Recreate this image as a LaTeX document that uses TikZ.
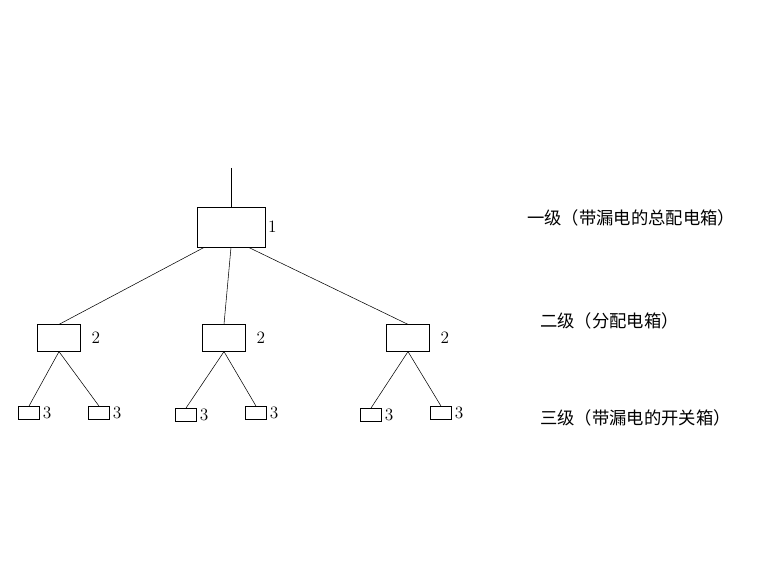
\documentclass[tikz,border=0pt]{standalone}
\usepackage{fontspec}
\newfontfamily\cjk{Noto Sans CJK SC}
\usetikzlibrary{positioning}
\begin{document}
\begin{tikzpicture}[x=0.75pt,y=-0.75pt, font=\fontsize{13}{15}\selectfont,
    bigbox/.style={draw, minimum width=51pt, minimum height=30pt, inner sep=0pt},
    midbox/.style={draw, minimum width=32pt, minimum height=20pt, inner sep=0pt},
    smallbox/.style={draw, minimum width=16pt, minimum height=10pt, inner sep=0pt},
    lbl/.style={right, inner sep=2pt},
    level/.style={right, inner sep=0pt, font=\cjk\fontsize{13}{15}\selectfont}]
    \useasboundingbox (0,0) rectangle (760,570);
    \coordinate (top) at (231,168);
    \node[bigbox] (b1) at (231,227) {};
    \node[lbl] at (b1.east) {1};
    \node[midbox] (m1) at (59,338) {};
    \node[midbox] (m2) at (224,338) {};
    \node[midbox] (m3) at (408,338) {};
    \foreach \m in {m1,m2,m3}
      \node[lbl, xshift=6pt] at (\m.east) {2};
    \node[smallbox] (s1) at (29,413) {};
    \node[smallbox] (s2) at (99,413) {};
    \node[smallbox] (s3) at (186,415) {};
    \node[smallbox] (s4) at (256,413) {};
    \node[smallbox] (s5) at (371,415) {};
    \node[smallbox] (s6) at (441,413) {};
    \foreach \s in {s1,s2,s3,s4,s5,s6}
      \node[lbl] at (\s.east) {3};
    \draw (top) -- (b1.north);
    \draw ([xshift=-20pt]b1.south) -- (m1.north);
    \draw (b1.south) -- (m2.north);
    \draw ([xshift=13pt]b1.south) -- (m3.north);
    \foreach \m/\a/\b in {m1/s1/s2, m2/s3/s4, m3/s5/s6} {
      \draw (\m.south) -- (\a.north);
      \draw (\m.south) -- (\b.north);
    }
    \node[level] (t1) at (527,218) {一级（带漏电的总配电箱）};
    \node[level] (t2) at (540,321) {二级（分配电箱）};
    \node[level] (t3) at (540,418) {三级（带漏电的开关箱）};
\end{tikzpicture}
\end{document}
